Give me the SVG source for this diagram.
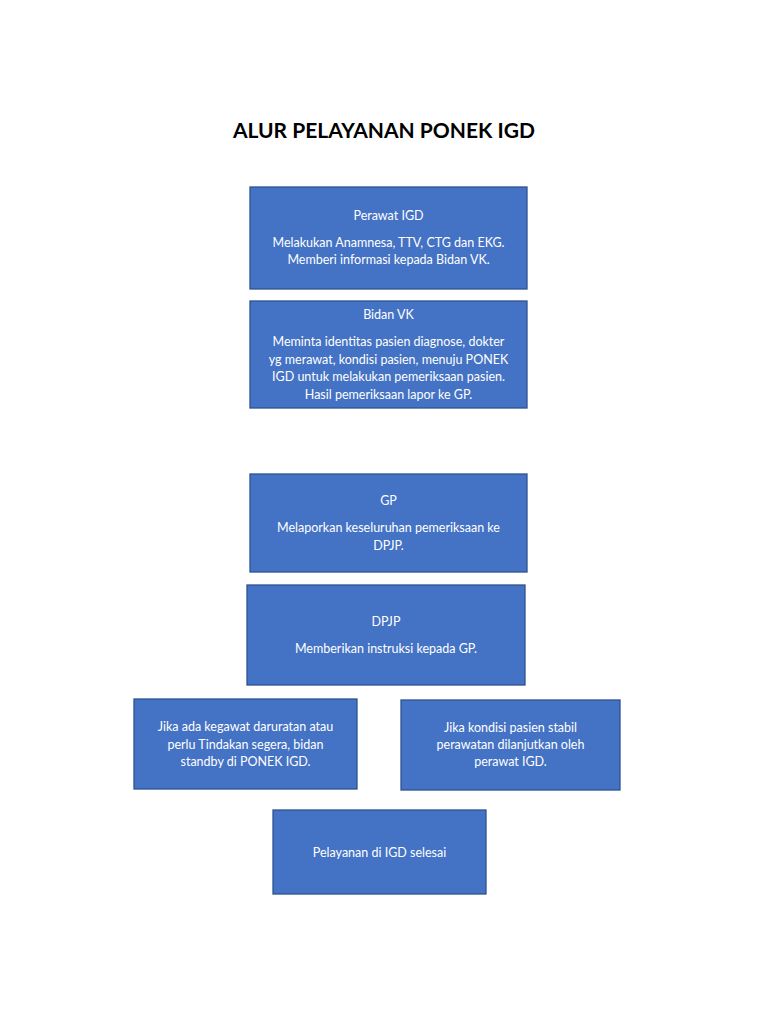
<svg xmlns="http://www.w3.org/2000/svg" width="768" height="1024" viewBox="0 0 768 1024">
<style>
.b{fill:#4472C4;stroke:#2F528F;stroke-width:1.3}
.t{font-family:Lato,"Liberation Sans",sans-serif;font-size:12.5px;fill:#fff;text-anchor:middle}
.h{font-family:Lato,"Liberation Sans",sans-serif;font-size:21px;font-weight:bold;fill:#000;text-anchor:middle}
</style>
<rect width="768" height="1024" fill="#fff"/>
<text class="h" x="384" y="138">ALUR PELAYANAN PONEK IGD</text>
<g id="n1"><rect class="b" x="250" y="187" width="277" height="102"/>
<text class="t" x="388.5" y="220">Perawat IGD</text>
<text class="t" x="388.5" y="247">Melakukan Anamnesa, TTV, CTG dan EKG.</text>
<text class="t" x="388.5" y="264">Memberi informasi kepada Bidan VK.</text></g>
<g id="n2"><rect class="b" x="250" y="301" width="277" height="107"/>
<text class="t" x="388.5" y="319">Bidan VK</text>
<text class="t" x="388.5" y="346">Meminta identitas pasien diagnose, dokter</text>
<text class="t" x="388.5" y="364">yg merawat, kondisi pasien, menuju PONEK</text>
<text class="t" x="388.5" y="381">IGD untuk melakukan pemeriksaan pasien.</text>
<text class="t" x="388.5" y="399">Hasil pemeriksaan lapor ke GP.</text></g>
<g id="n3"><rect class="b" x="250" y="474" width="277" height="98"/>
<text class="t" x="388.5" y="505">GP</text>
<text class="t" x="388.5" y="532">Melaporkan keseluruhan pemeriksaan ke</text>
<text class="t" x="388.5" y="550">DPJP.</text></g>
<g id="n4"><rect class="b" x="247" y="585" width="278" height="100"/>
<text class="t" x="386" y="626">DPJP</text>
<text class="t" x="386" y="653">Memberikan instruksi kepada GP.</text></g>
<g id="n5"><rect class="b" x="134" y="699" width="223" height="90"/>
<text class="t" x="245.5" y="731">Jika ada kegawat daruratan atau</text>
<text class="t" x="245.5" y="749">perlu Tindakan segera, bidan</text>
<text class="t" x="245.5" y="766">standby di PONEK IGD.</text></g>
<g id="n6"><rect class="b" x="401" y="700" width="219" height="90"/>
<text class="t" x="510.5" y="732">Jika kondisi pasien stabil</text>
<text class="t" x="510.5" y="749">perawatan dilanjutkan oleh</text>
<text class="t" x="510.5" y="766">perawat IGD.</text></g>
<g id="n7"><rect class="b" x="273" y="810" width="213" height="84"/>
<text class="t" x="379.5" y="857">Pelayanan di IGD selesai</text></g>
<g id="connectors"/>
</svg>
